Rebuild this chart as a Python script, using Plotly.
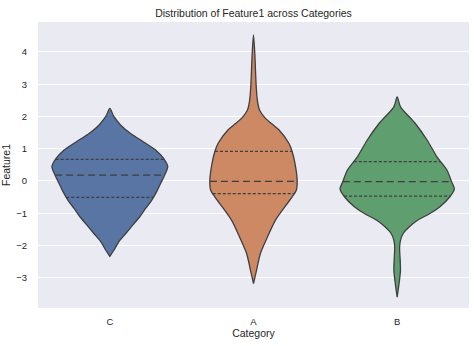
import numpy as np
import plotly.graph_objects as go

categories = ["C", "A", "B"]
colors = ["#5875a3", "#cc8963", "#5f9e6e"]

# density profiles: value (y) and half-width (category units)
C_y = [2.25, 2.0, 1.73, 1.47, 1.21, 0.96, 0.70, 0.44, 0.18, -0.08, -0.34, -0.60, -0.85, -1.11, -1.37, -1.63, -1.89, -2.15, -2.34]
C_hw = [0.0, 0.028, 0.076, 0.145, 0.235, 0.318, 0.374, 0.403, 0.381, 0.353, 0.325, 0.291, 0.249, 0.208, 0.159, 0.111, 0.062, 0.028, 0.0]

A_y = [4.53, 3.96, 2.92, 2.50, 2.20, 1.99, 1.78, 1.58, 1.16, 0.90, 0.54, 0.02, -0.29, -0.50, -0.70, -1.22, -1.74, -2.25, -2.77, -3.18]
A_hw = [0.0, 0.009, 0.019, 0.027, 0.042, 0.074, 0.125, 0.178, 0.247, 0.270, 0.289, 0.304, 0.298, 0.268, 0.235, 0.152, 0.097, 0.048, 0.021, 0.0]

B_y = [2.61, 2.30, 1.79, 1.27, 0.75, 0.34, -0.05, -0.25, -0.49, -0.80, -1.01, -1.22, -1.43, -1.63, -1.84, -2.05, -2.46, -2.77, -3.08, -3.39, -3.60]
B_hw = [0.0, 0.023, 0.125, 0.208, 0.277, 0.346, 0.381, 0.398, 0.367, 0.298, 0.228, 0.142, 0.083, 0.042, 0.023, 0.017, 0.021, 0.023, 0.016, 0.007, 0.0]

# quartiles (Q1, median, Q3)
C_q = [-0.51, 0.18, 0.67]
A_q = [-0.39, -0.01, 0.92]
B_q = [-0.47, -0.02, 0.60]

profiles = [(C_y, C_hw, C_q), (A_y, A_hw, A_q), (B_y, B_hw, B_q)]

edge = "#3f3f3f"
fig = go.Figure()
for i, (ys, hws, qs) in enumerate(profiles):
    ys = np.array(ys)
    hws = np.array(hws)
    x = np.concatenate([i + hws, (i - hws)[::-1]])
    y = np.concatenate([ys, ys[::-1]])
    fig.add_trace(go.Scatter(
        x=x, y=y, mode="lines", fill="toself", fillcolor=colors[i],
        line=dict(color=edge, width=1.3, shape="spline", smoothing=0.8),
        hoverinfo="skip", showlegend=False))
    for k, q in enumerate(qs):
        w = float(np.interp(q, ys[::-1], hws[::-1]))
        dash = "7px,4px" if k == 1 else "3px,2px"
        fig.add_trace(go.Scatter(
            x=[i - w, i + w], y=[q, q], mode="lines",
            line=dict(color=edge, width=1.2, dash=dash),
            hoverinfo="skip", showlegend=False))

fig.update_layout(
    width=474, height=346,
    margin=dict(l=36, r=5, t=22, b=38),
    plot_bgcolor="#eaeaf2", paper_bgcolor="white",
    font=dict(family="Liberation Sans, Arial, sans-serif", size=10, color="#262626"),
    title=dict(text="Distribution of Feature1 across Categories", x=0.5, xref="paper",
               y=1 - 13 / 346, yref="container", yanchor="middle", xanchor="center",
               font=dict(size=10.5, color="#262626")),
    xaxis=dict(range=[-0.5, 2.5], tickvals=[0, 1, 2], ticktext=categories,
               showgrid=False, zeroline=False, showline=False,
               ticks="outside", ticklen=5, tickcolor="rgba(0,0,0,0)",
               tickfont=dict(size=9.5),
               title=dict(text="Category", font=dict(size=10.5), standoff=3)),
    yaxis=dict(range=[-3.94, 4.93], tickvals=[-3, -2, -1, 0, 1, 2, 3, 4],
               showgrid=True, gridcolor="white", gridwidth=1,
               zeroline=False, showline=False,
               ticks="outside", ticklen=8, tickcolor="rgba(0,0,0,0)",
               tickfont=dict(size=9.5),
               title=dict(text="Feature1", font=dict(size=10.5), standoff=4)),
)

fig.write_html("out.html")
